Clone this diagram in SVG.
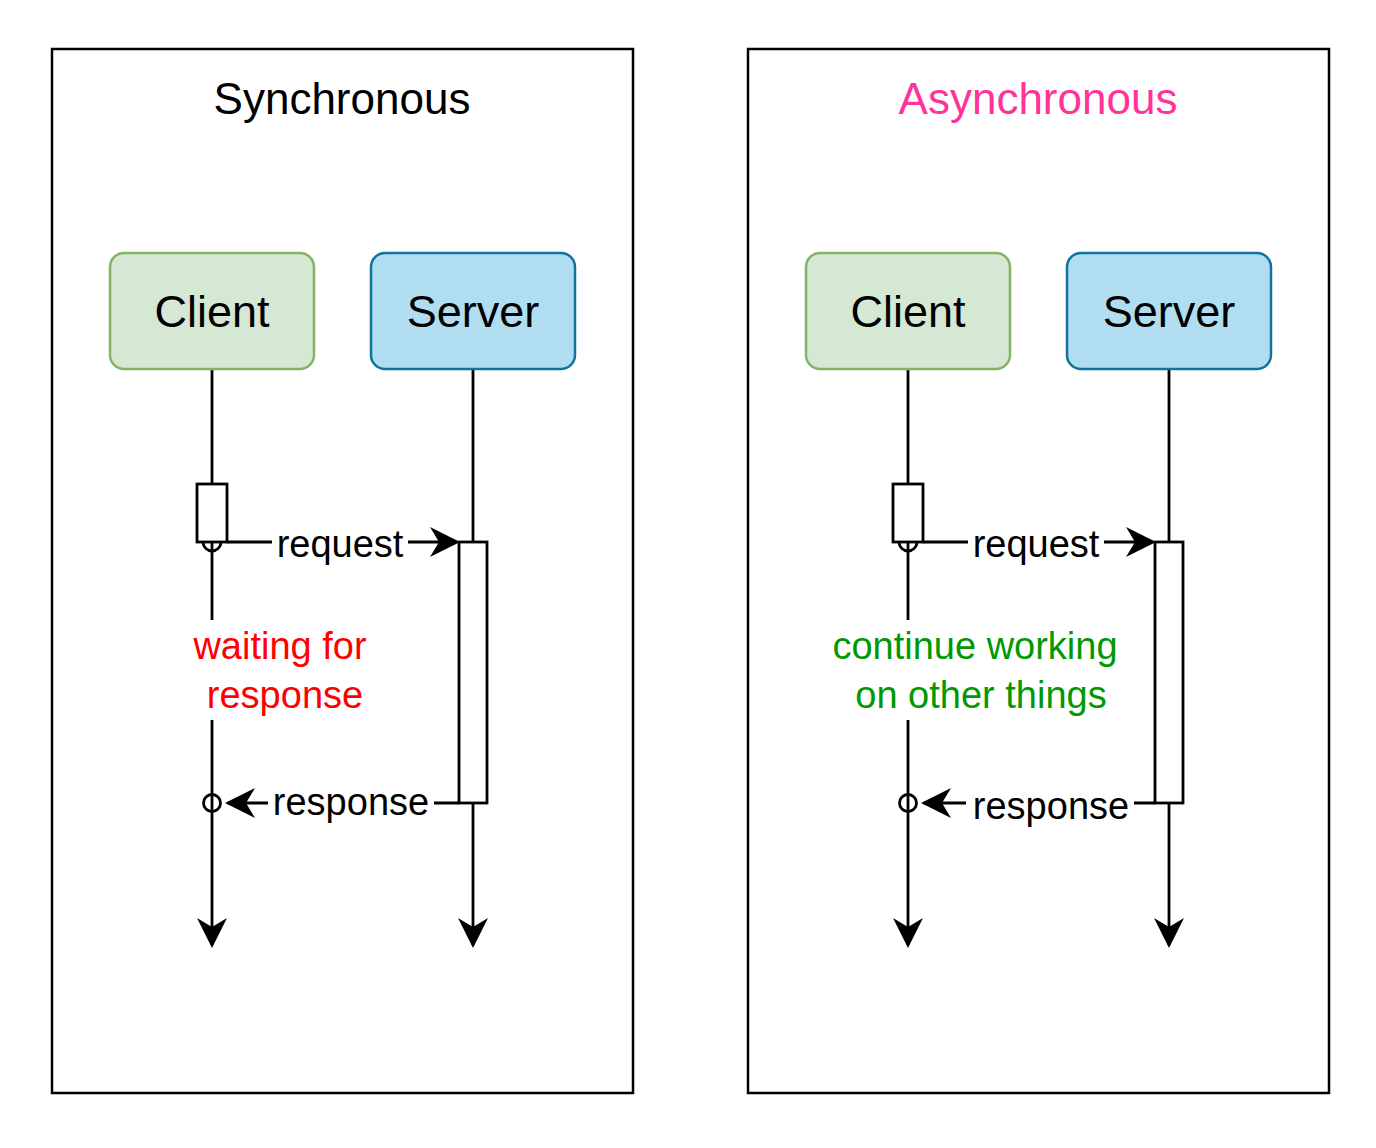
<svg xmlns="http://www.w3.org/2000/svg" width="1376" height="1148" viewBox="0 0 1376 1148">
<defs>
<marker id="b" viewBox="0 0 10 10" refX="9" refY="5" markerWidth="30" markerHeight="30" markerUnits="userSpaceOnUse" orient="auto"><path d="M0,0 L10,5 L0,10 L3,5 Z" fill="#000"/></marker>
</defs>
<style>
text{font-family:"Liberation Sans",Arial,sans-serif;text-anchor:middle}
.frame{fill:#fff;stroke:#000;stroke-width:2.5}
.ln{stroke:#000;stroke-width:2.8;fill:none}
.act{fill:#fff;stroke:#000;stroke-width:2.8}
.cl{fill:#d5e8d4;stroke:#82b366;stroke-width:2.5}
.sv{fill:#b1ddf0;stroke:#10739e;stroke-width:2.5}
.t{font-size:45px}
.ti{font-size:44px}
.lb{font-size:38px;fill:#000}
.mid{font-size:38px}
</style>
<rect width="1376" height="1148" fill="#fff"/>
<g id="sync">
<rect class="frame" x="52" y="49" width="581" height="1044"/>
<text x="342" y="114" class="ti" fill="#000">Synchronous</text>
</g>
<g id="async">
<rect class="frame" x="748" y="49" width="581" height="1044"/>
<text x="1038" y="114" class="ti" fill="#ff3399">Asynchronous</text>
</g>
<g id="connectors">
<g id="c1">
<line class="ln" x1="212" y1="369" x2="212" y2="620"/>
<line class="ln" x1="212" y1="720" x2="212" y2="945" marker-end="url(#b)"/>
<line class="ln" x1="473" y1="369" x2="473" y2="945" marker-end="url(#b)"/>
<rect class="act" x="197" y="484" width="30" height="58"/>
<path class="ln" d="M203,542 A9,9 0 0 0 221,542" fill="#fff"/>
<line class="ln" x1="227" y1="542" x2="457" y2="542" marker-end="url(#b)"/>
<rect class="act" x="459" y="542" width="28" height="261"/>
<line class="ln" x1="459" y1="803" x2="228" y2="803" marker-end="url(#b)"/>
<circle class="ln" cx="212" cy="803" r="8.5" fill="#fff"/>
<rect x="272" y="524" width="136" height="40" fill="#fff"/>
<text x="340" y="557" class="lb">request</text>
<rect x="268" y="782" width="166" height="42" fill="#fff"/>
<text x="351" y="815" class="lb" fill="#1a1a1a">response</text>
<text x="280" y="659" class="mid" fill="#ff0000">waiting for</text>
<text x="285" y="708" class="mid" fill="#ff0000">response</text>
</g>
<g id="c2" transform="translate(696,0)">
<line class="ln" x1="212" y1="369" x2="212" y2="620"/>
<line class="ln" x1="212" y1="720" x2="212" y2="945" marker-end="url(#b)"/>
<line class="ln" x1="473" y1="369" x2="473" y2="945" marker-end="url(#b)"/>
<rect class="act" x="197" y="484" width="30" height="58"/>
<path class="ln" d="M203,542 A9,9 0 0 0 221,542" fill="#fff"/>
<line class="ln" x1="227" y1="542" x2="457" y2="542" marker-end="url(#b)"/>
<rect class="act" x="459" y="542" width="28" height="261"/>
<line class="ln" x1="459" y1="803" x2="228" y2="803" marker-end="url(#b)"/>
<circle class="ln" cx="212" cy="803" r="8.5" fill="#fff"/>
<rect x="272" y="524" width="136" height="40" fill="#fff"/>
<text x="340" y="557" class="lb">request</text>
<rect x="270" y="786" width="168" height="42" fill="#fff"/>
<text x="355" y="819" class="lb" fill="#1a1a1a">response</text>
<text x="279" y="659" class="mid" fill="#009900">continue working</text>
<text x="285" y="708" class="mid" fill="#009900">on other things</text>
</g>
</g>
<g id="client1"><rect class="cl" x="110" y="253" width="204" height="116" rx="14"/><text x="212" y="327" class="t">Client</text></g>
<g id="server1"><rect class="sv" x="371" y="253" width="204" height="116" rx="14"/><text x="473" y="327" class="t">Server</text></g>
<g id="client2"><rect class="cl" x="806" y="253" width="204" height="116" rx="14"/><text x="908" y="327" class="t">Client</text></g>
<g id="server2"><rect class="sv" x="1067" y="253" width="204" height="116" rx="14"/><text x="1169" y="327" class="t">Server</text></g>
</svg>
